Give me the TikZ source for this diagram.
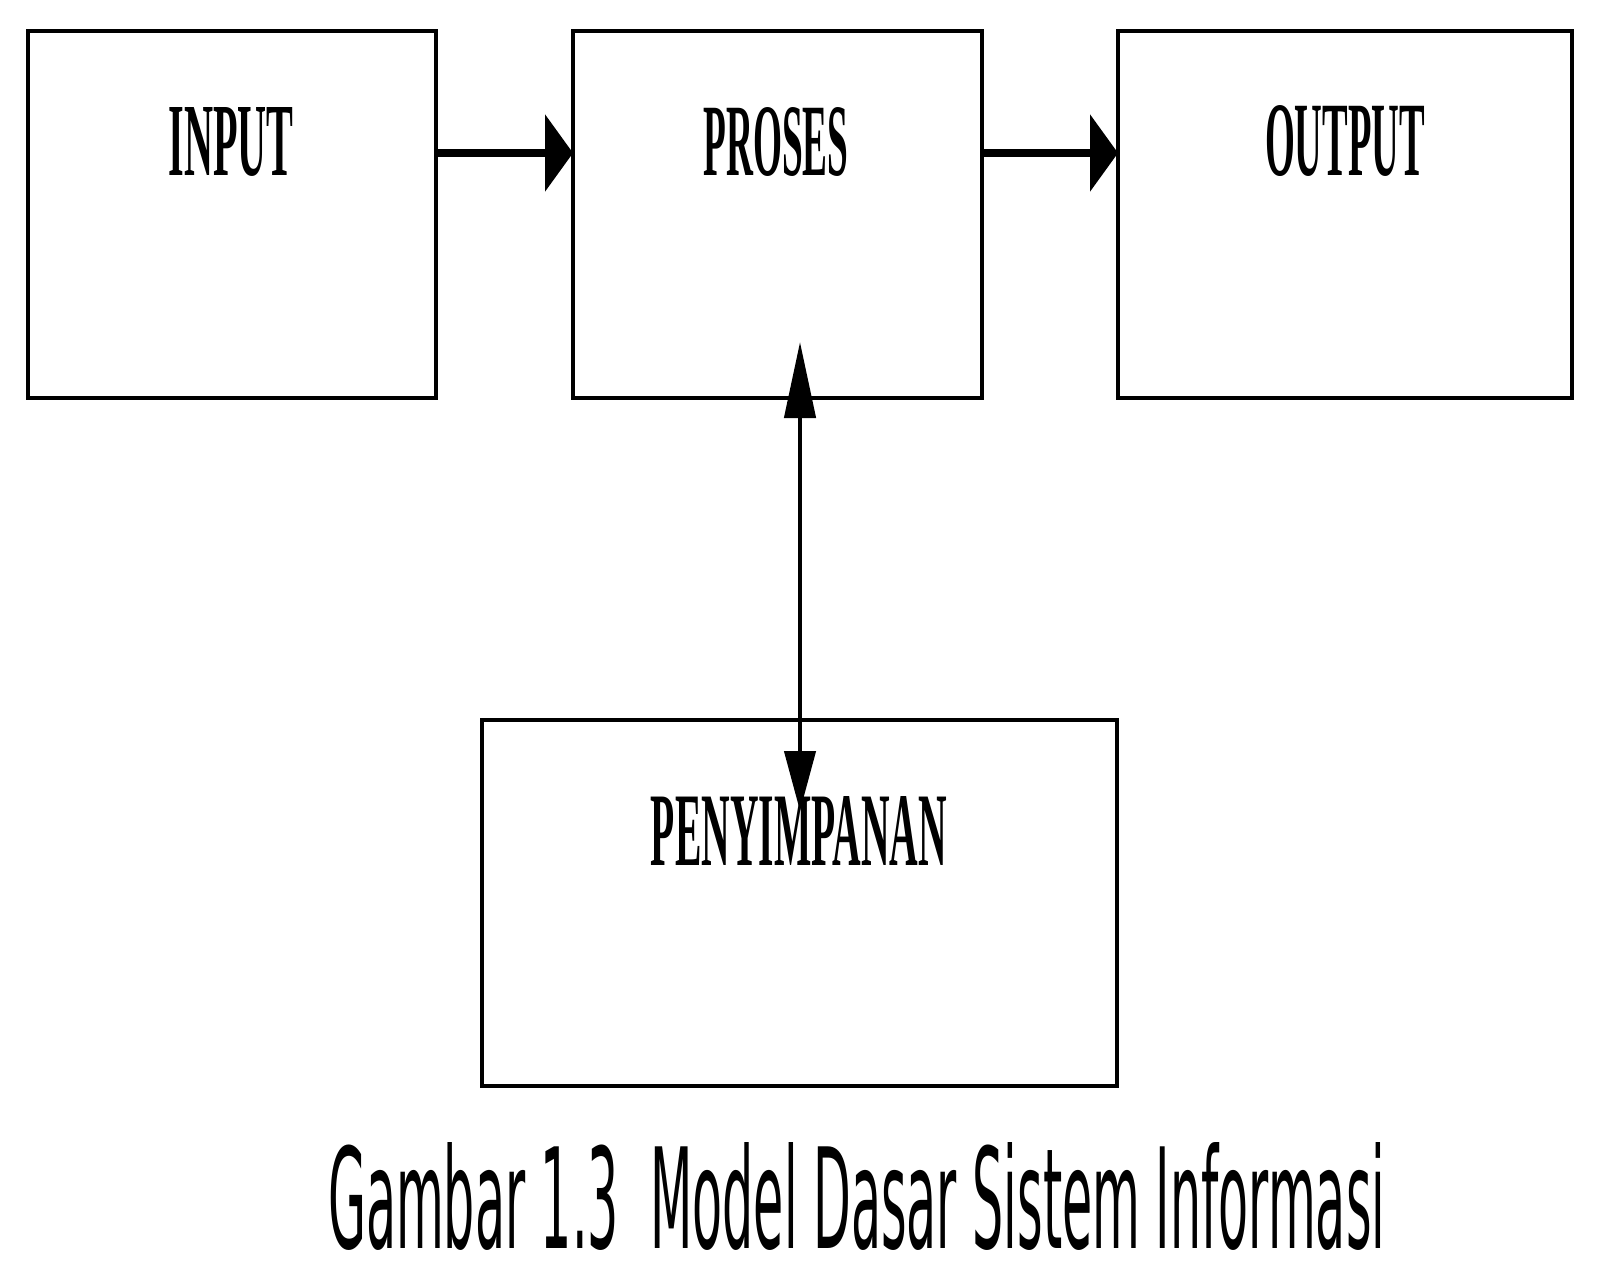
\documentclass[tikz,border=0pt]{standalone}
\usepackage{fontspec}
\usepackage{graphicx}
\setmainfont{Liberation Serif}
\newfontfamily\capfont{DejaVu Sans}
\usetikzlibrary{arrows.meta}
\newcommand\fitlabel[3]{\resizebox{#1}{#2}{#3}}
\begin{document}
\begin{tikzpicture}[x=0.5pt,y=-0.5pt,
  blok/.style={draw=black, line width=2.4pt, rectangle, inner sep=0pt, outer sep=0pt, fill=none},
  lbl/.style={inner sep=0pt, outer sep=0pt, anchor=base, font=\bfseries},
  flow/.style={line width=4.2pt, -{Triangle[length=14pt,width=38pt]}},
  dua/.style={line width=2.2pt, {Triangle[length=30pt,width=15.5pt]}-{Triangle[length=38pt,width=15.5pt]}}]
\useasboundingbox (0,0) rectangle (1600,1280);
\node[blok, minimum width=204pt, minimum height=183.5pt] (input) at (232,214.5) {};
\node[blok, minimum width=204.5pt, minimum height=183.5pt] (proses) at (777.5,214.5) {};
\node[blok, minimum width=227pt, minimum height=183.5pt] (output) at (1345,214.5) {};
\node[blok, minimum width=317.5pt, minimum height=183pt] (simpan) at (799.5,903) {};
\node[lbl] (tinput) at (231,175) {\fitlabel{62.5pt}{34pt}{INPUT}};
\node[lbl] (tproses) at (776,175) {\fitlabel{72.5pt}{34pt}{PROSES}};
\node[lbl] (toutput) at (1345,175) {\fitlabel{80pt}{35pt}{OUTPUT}};
\node[lbl] (tsimpan) at (799,865) {\fitlabel{148pt}{34.5pt}{PENYIMPANAN}};
\node[inner sep=0pt, outer sep=0pt, anchor=base west] (caption) at (328,1248) {\capfont\fitlabel{528.5pt}{53pt}{Gambar 1.3\ \ Model Dasar Sistem Informasi}};
\coordinate (row) at (0,153);
\draw[flow] (input.east |- row) -- (proses.west |- row);
\draw[flow] (proses.east |- row) -- (output.west |- row);
\coordinate (ptip) at (800,342);
\coordinate (stip) at (800,811);
\draw[dua] (stip) -- (ptip);
\end{tikzpicture}
\end{document}
